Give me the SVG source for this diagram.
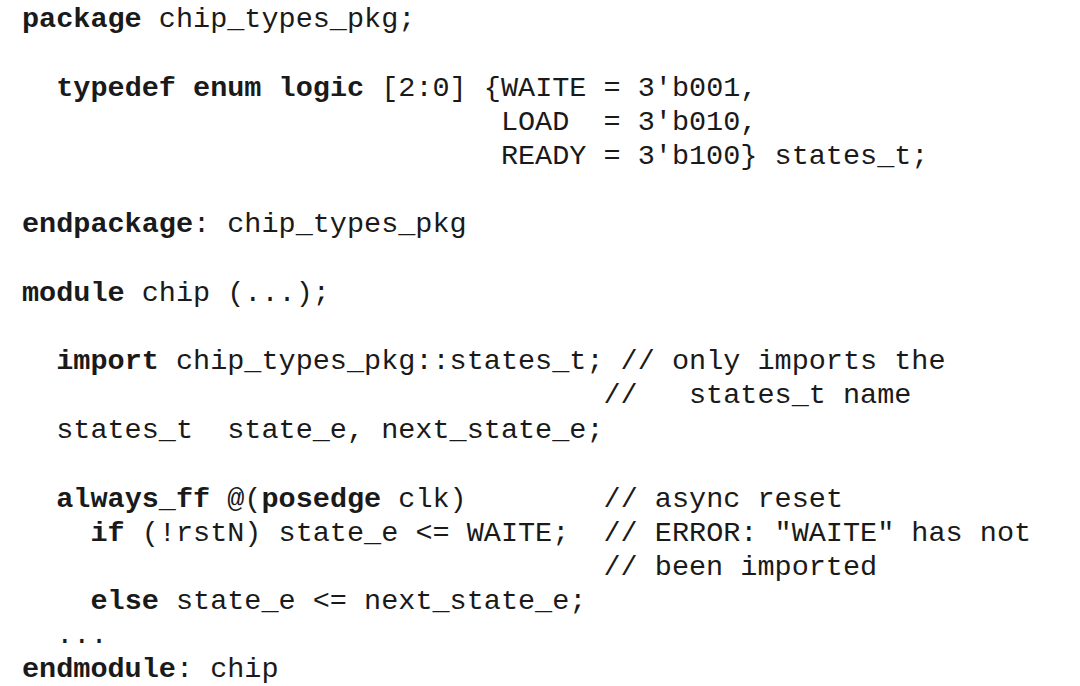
<svg xmlns="http://www.w3.org/2000/svg" width="1080" height="686" viewBox="0 0 1080 686">
<style>
text{font-family:"Liberation Mono","Courier New",monospace;font-size:28.5px;fill:#1a1a1a;white-space:pre}
.b{font-weight:bold}
</style>
<rect width="1080" height="686" fill="#fff"/>
<g id="code" xml:space="preserve">
<text x="22" y="27"><tspan class="b">package</tspan> chip_types_pkg;</text>
<text x="22" y="96">  <tspan class="b">typedef</tspan> <tspan class="b">enum</tspan> <tspan class="b">logic</tspan> [2:0] {WAITE = 3'b001,</text>
<text x="22" y="130">                            LOAD  = 3'b010,</text>
<text x="22" y="164">                            READY = 3'b100} states_t;</text>
<text x="22" y="232"><tspan class="b">endpackage</tspan>: chip_types_pkg</text>
<text x="22" y="301"><tspan class="b">module</tspan> chip (...);</text>
<text x="22" y="369">  <tspan class="b">import</tspan> chip_types_pkg::states_t; // only imports the</text>
<text x="22" y="403">                                  //   states_t name</text>
<text x="22" y="438">  states_t  state_e, next_state_e;</text>
<text x="22" y="507">  <tspan class="b">always_ff</tspan> @(<tspan class="b">posedge</tspan> clk)        // async reset</text>
<text x="22" y="541">    <tspan class="b">if</tspan> (!rstN) state_e &lt;= WAITE;  // ERROR: "WAITE" has not</text>
<text x="22" y="575">                                  // been imported</text>
<text x="22" y="609">    <tspan class="b">else</tspan> state_e &lt;= next_state_e;</text>
<text x="22" y="643">  ...</text>
<text x="22" y="677"><tspan class="b">endmodule</tspan>: chip</text>
</g>
</svg>
